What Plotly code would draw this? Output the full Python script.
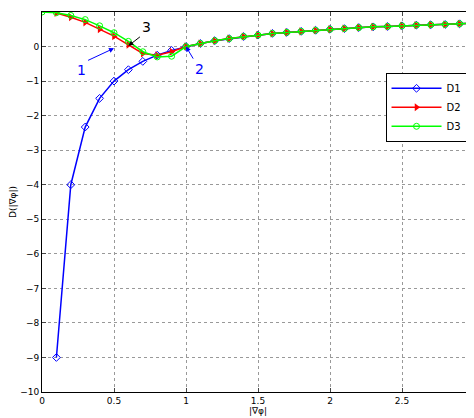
import plotly.graph_objects as go

# values
x_low = [0.1, 0.2, 0.3, 0.4, 0.5, 0.6, 0.7, 0.8, 0.9, 1.0]
x_high = [1.1, 1.2, 1.3, 1.4, 1.5, 1.6, 1.7, 1.8, 1.9, 2.0, 2.1, 2.2, 2.3, 2.4, 2.5,
          2.6, 2.7, 2.8, 2.9, 3.0]
tail = [0.09, 0.17, 0.23, 0.29, 0.33, 0.38, 0.41, 0.44, 0.47, 0.50, 0.52, 0.55, 0.57,
        0.58, 0.60, 0.62, 0.63, 0.64, 0.66, 0.67]

d1 = [-9.0, -4.0, -2.33, -1.5, -1.0, -0.67, -0.43, -0.25, -0.11, 0.0] + tail
d2 = [0.97, 0.85, 0.7, 0.5, 0.3, 0.05, -0.2, -0.25, -0.15, 0.0] + tail
d3_x = [0.0] + x_low + x_high
d3 = [1.0, 0.98, 0.9, 0.78, 0.6, 0.4, 0.15, -0.15, -0.3, -0.28, 0.0] + tail
xs = x_low + x_high

fig = go.Figure()
fig.add_trace(go.Scatter(x=xs, y=d1, name="D1", mode="lines+markers",
                         line=dict(color="#0000ff", width=1.5),
                         marker=dict(symbol="diamond-open", size=6)))
fig.add_trace(go.Scatter(x=xs, y=d2, name="D2", mode="lines+markers",
                         line=dict(color="#ff0000", width=1.5),
                         marker=dict(symbol="triangle-right", size=7)))
fig.add_trace(go.Scatter(x=d3_x, y=d3, name="D3", mode="lines+markers",
                         line=dict(color="#00ff00", width=1.5),
                         marker=dict(symbol="circle-open", size=6)))

fig.add_annotation(x=0.5, y=-0.05, ax=0.32, ay=-0.4, axref="x", ayref="y", text="1",
                   font=dict(color="#0000ff", size=14), arrowcolor="#0000ff",
                   arrowhead=2, arrowwidth=1, xanchor="right", yanchor="top")
fig.add_annotation(x=1.0, y=0.0, ax=1.05, ay=-0.35, axref="x", ayref="y", text="2",
                   font=dict(color="#0000ff", size=14), arrowcolor="#0000ff",
                   arrowhead=2, arrowwidth=1, xanchor="left", yanchor="top")
fig.add_annotation(x=0.6, y=0.02, ax=0.68, ay=0.28, axref="x", ayref="y", text="3",
                   font=dict(color="black", size=14), arrowcolor="black",
                   arrowhead=2, arrowwidth=1, xanchor="left", yanchor="bottom")

grid = dict(showgrid=True, gridcolor="#999999", griddash="dot", gridwidth=1,
            showline=True, linecolor="black", mirror="ticks", ticks="inside",
            ticklen=4, zeroline=False, tickfont=dict(size=9))
fig.update_xaxes(range=[0, 3], dtick=0.5, title=dict(text="|∇φ|", font=dict(size=9),
                 standoff=2), **grid)
fig.update_yaxes(range=[-10, 1], dtick=1, title=dict(text="D(|∇φ|)", font=dict(size=9),
                 standoff=2), **grid)

fig.update_layout(
    width=474, height=418,
    margin=dict(l=34, r=8, t=4, b=34),
    plot_bgcolor="white", paper_bgcolor="white",
    font=dict(family="DejaVu Sans", color="black"),
    legend=dict(x=0.985, y=0.84, xanchor="right", yanchor="top",
                bordercolor="black", borderwidth=1, bgcolor="white",
                font=dict(size=10), itemwidth=50, tracegroupgap=12,
                entrywidth=70),
    showlegend=True,
)

fig.write_html("out.html")
